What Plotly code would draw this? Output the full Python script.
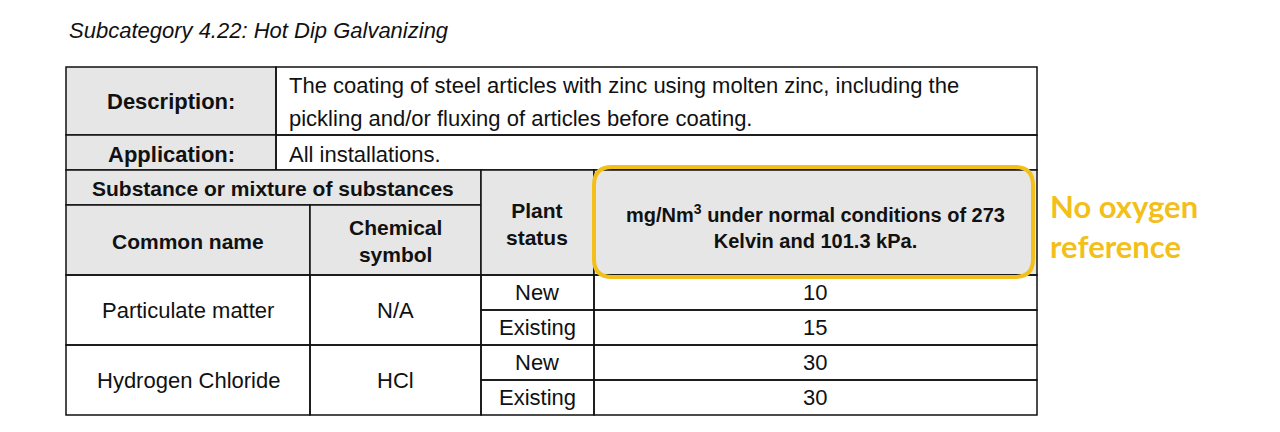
import plotly.graph_objects as go

title_num = "(22)"
title_text = "Subcategory 4.22: Hot Dip Galvanizing"
desc_label = "Description:"
desc_text = ["The coating of steel articles with zinc using molten zinc, including the",
             "pickling and/or fluxing of articles before coating."]
app_label = "Application:"
app_text = "All installations."
hdr_substance = "Substance or mixture of substances"
hdr_common = "Common name"
hdr_symbol = "Chemical<br>symbol"
hdr_status = "Plant<br>status"
hdr_limit = "mg/Nm<sup>3</sup> under normal conditions of 273<br>Kelvin and 101.3 kPa."
substances = ["Particulate matter", "Hydrogen Chloride"]
symbols = ["N/A", "HCl"]
statuses = ["New", "Existing", "New", "Existing"]
limits = [10, 15, 30, 30]
callout = "No oxygen<br>reference"

FONT = "Liberation Sans Narrow, Arial Narrow, Liberation Sans, sans-serif"
GRAY = "#e6e6e6"
YEL = "#f2bf1b"

fig = go.Figure()
shapes = []
ann = []

def rect(x0, y0, x1, y1, fill=None):
    shapes.append(dict(type="rect", x0=x0, y0=y0, x1=x1, y1=y1, xref="x", yref="y",
                       line=dict(color="#111", width=1.5),
                       fillcolor=fill if fill else "rgba(0,0,0,0)", layer="below"))

def txt(x, y, s, size=22, bold=False, anchor="center", color="#111", font=FONT, italic=False):
    if bold:
        s = "<b>" + s.replace("<br>", "</b><br><b>") + "</b>"
    if italic:
        s = "<i>" + s + "</i>"
    ann.append(dict(x=x, y=y, xref="x", yref="y", text=s, showarrow=False, xanchor=anchor,
                    yanchor="middle", font=dict(family=font, size=size, color=color), align="center"))

L, R = 66, 1037
rect(L, 67, 276, 135, GRAY); rect(276, 67, R, 135)
rect(L, 135, 276, 170, GRAY); rect(276, 135, R, 170)
rect(L, 170, 481, 205, GRAY)
rect(L, 205, 310, 275, GRAY); rect(310, 205, 481, 275, GRAY)
rect(481, 170, 594, 275, GRAY); rect(594, 170, R, 275, GRAY)
rows = [275, 310, 345, 380, 415]
for i in range(2):
    rect(L, rows[2*i], 310, rows[2*i+2]); rect(310, rows[2*i], 481, rows[2*i+2])
    txt(188, (rows[2*i]+rows[2*i+2])/2, substances[i])
    txt(395, (rows[2*i]+rows[2*i+2])/2, symbols[i])
for j in range(4):
    rect(481, rows[j], 594, rows[j+1]); rect(594, rows[j], R, rows[j+1])
    txt(537, (rows[j]+rows[j+1])/2, statuses[j])
    txt(815, (rows[j]+rows[j+1])/2, str(limits[j]))

txt(6, 30, title_num, anchor="left")
txt(67, 30, title_text, anchor="left", italic=True)
txt(171, 101, desc_label, bold=True)
txt(287, 85, desc_text[0], anchor="left")
txt(287, 118, desc_text[1], anchor="left")
txt(171, 154, app_label, bold=True)
txt(287, 154, app_text, anchor="left")
txt(273, 188, hdr_substance, bold=True, size=21)
txt(188, 241, hdr_common, bold=True, size=21)
txt(395, 241, hdr_symbol, bold=True, size=21)
txt(537, 224, hdr_status, bold=True, size=21)
txt(815, 226, hdr_limit, bold=True, size=20)
txt(1048, 226, callout, bold=True, anchor="left", color=YEL, size=31, font="Lato, sans-serif")
ann[-1]["align"] = "left"

shapes.append(dict(type="path", xref="x", yref="y", layer="above",
                   path="M 612 167 L 1015 167 Q 1033 167 1033 185 L 1033 259 Q 1033 277 1015 277 "
                        "L 612 277 Q 594 277 594 259 L 594 185 Q 594 167 612 167 Z",
                   line=dict(color=YEL, width=4), fillcolor="rgba(0,0,0,0)"))

fig.update_layout(width=1280, height=432, margin=dict(l=0, r=0, t=0, b=0),
                  plot_bgcolor="white", paper_bgcolor="white", shapes=shapes, annotations=ann,
                  xaxis=dict(range=[8, 1288], visible=False, fixedrange=True),
                  yaxis=dict(range=[440, 8], visible=False, fixedrange=True), showlegend=False)
fig.write_html("out.html", config={"displayModeBar": False})
